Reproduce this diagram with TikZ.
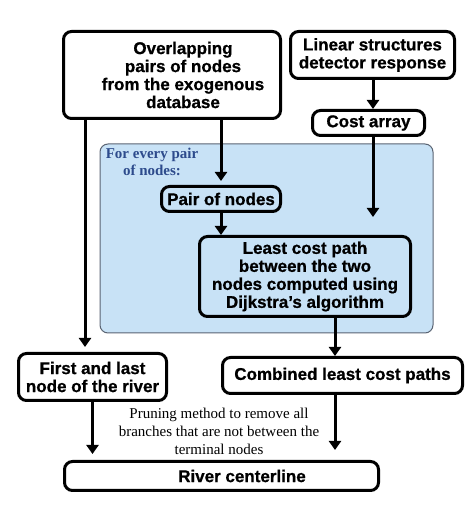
\documentclass[tikz,border=0pt]{standalone}
\usepackage{fontspec}
\setmainfont{Liberation Serif}
\setsansfont{Liberation Sans}[BoldFeatures={FakeBold=0.8}]
\usetikzlibrary{arrows.meta}
\definecolor{bluefill}{RGB}{200,226,246}
\definecolor{blueborder}{RGB}{90,100,115}
\definecolor{bluetext}{RGB}{45,75,140}
\begin{document}
\begin{tikzpicture}[x=1pt,y=1pt,
 boxtext/.style={align=center, font=\sffamily\bfseries\fontsize{17}{18}\selectfont, inner sep=0pt},
 box/.style={boxtext, draw=black, line width=3pt, rounded corners=8pt, fill=white},
 arr/.style={line width=3pt, -{Triangle[width=12pt,length=9pt]}},
]
\useasboundingbox (0,0) rectangle (474,507);
% loop background
\node[draw=blueborder, fill=bluefill, line width=1pt, rounded corners=8pt,
      minimum width=333pt, minimum height=189pt, inner sep=0pt] (loop) at (266.5,268.5) {};
\node[align=center, text=bluetext, font=\rmfamily\bfseries\fontsize{15}{17}\selectfont, inner sep=0pt]
  (looplbl) at (152,345) {For every pair\\of nodes:};

% boxes
\node[box, minimum width=217pt, minimum height=87pt] (ovl) at (172,432) {};
\node[boxtext] (ovltxt) at (183,432) {Overlapping\\pairs of nodes\\from the exogenous\\database};
\node[box, minimum width=164pt, minimum height=47pt] (lin) at (372.5,452) {Linear structures\\detector response};
\node[box, minimum width=112pt, minimum height=25pt] (cost) at (368.5,384) {Cost array};
\node[box, fill=bluefill, minimum width=119pt, minimum height=25pt] (pair) at (221,308) {Pair of nodes};
\node[box, fill=bluefill, minimum width=211pt, minimum height=80pt] (least) at (305,230.5) {Least cost path\\between the two\\nodes computed using\\Dijkstra’s algorithm};
\node[box, minimum width=148pt, minimum height=47pt] (first) at (92.5,130) {First and last\\node of the river};
\node[box, minimum width=240pt, minimum height=36pt] (comb) at (342.5,131.5) {Combined least cost paths};
\node[box, minimum width=314pt, minimum height=29pt] (river) at (221.5,31) {};
\node[boxtext] (rivertxt) at (242,31) {River centerline};

\node[align=center, font=\rmfamily\fontsize{15}{18}\selectfont, inner sep=0pt]
  (prune) at (219,76) {Pruning method to remove all\\branches that are not between the\\terminal nodes};

% connectors
\draw[arr] (lin.south -| 373,0) -- (cost.north -| 373,0);
\draw[arr] (ovl.south -| pair.north) -- ([yshift=4pt]pair.north);
\draw[arr, shorten >=18pt] (cost.south -| 373,0) -- (least.north -| 373,0);
\draw[arr] (pair.south) -- (least.north -| pair.south);
\draw[arr, shorten >=5pt] (ovl.south -| 85,0) -- (first.north -| 85,0);
\draw[arr] (least.south -| 335,0) -- (comb.north -| 335,0);
\draw[arr, shorten >=6pt] (first.south) -- (river.north -| first.south);
\draw[arr, shorten >=10pt] (comb.south -| 335,0) -- (river.north -| 335,0);
\end{tikzpicture}
\end{document}
